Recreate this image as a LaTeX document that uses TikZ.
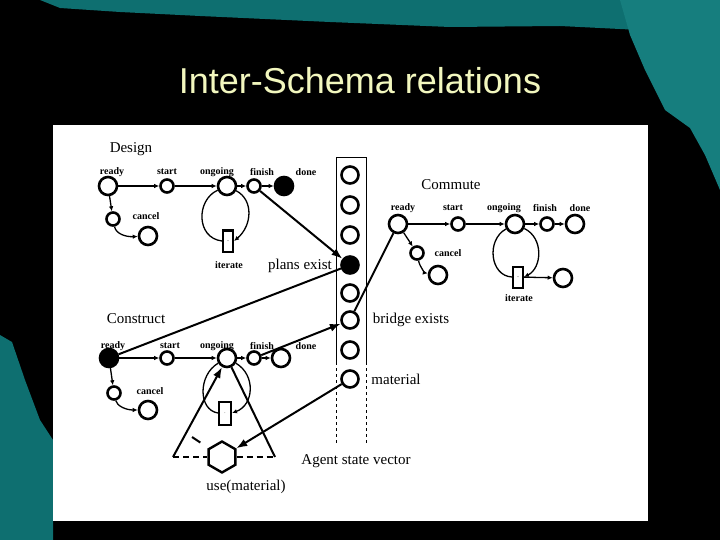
\documentclass[tikz,border=0pt]{standalone}
\usepackage{fontspec}
\setmainfont{Liberation Serif}
\newfontfamily\titlefont{Liberation Sans}
\usetikzlibrary{shapes.geometric, arrows.meta}
\definecolor{tealdark}{HTML}{0E6F70}
\definecolor{teallight}{HTML}{167E7E}
\definecolor{titleyellow}{HTML}{F2F7BE}

\begin{document}
\begin{tikzpicture}[
		x=1pt, y=-1pt, >={Latex[length=5pt, width=4.5pt]},
		every node/.style={inner sep=1pt},
		st/.style={circle, draw, line width=2.6pt, minimum size=18pt, inner sep=0pt},
		sm/.style={st, minimum size=13pt},
		full/.style={st, fill=black},
		iter/.style={rectangle, draw, line width=2pt, minimum width=10pt, minimum height=21pt, inner sep=0pt, font=\tiny},
		tag/.style={font=\bfseries\fontsize{10}{10}\selectfont},
		big/.style={font=\fontsize{15}{15}\selectfont},
		link/.style={line width=2pt, -{Latex[length=11pt, width=8pt]}},
		plain/.style={line width=2pt},
		row/.style={line width=1.3pt}
	]
  % slide background
  \useasboundingbox (0,0) rectangle (720,540);
  \fill[black] (0,0) rectangle (720,540);
  \fill[tealdark] (40,0) -- (720,0) -- (720,40) -- (640,30) -- (560,26) -- (450,27) -- (330,22) -- (200,16) -- (120,12) -- (60,8) -- cycle;
  \fill[teallight] (620,0) -- (720,0) -- (720,190) -- (705,155) -- (690,128) -- (665,110) -- (645,70) -- (630,35) -- cycle;
  \fill[tealdark] (0,335) -- (12,342) -- (25,380) -- (40,420) -- (53,440) -- (53,540) -- (0,540) -- cycle;
  \node (title) [font=\titlefont\fontsize{36}{36}\selectfont, text=titleyellow] at (360,81) {Inter-Schema relations};
  \fill[white] (53,125) rectangle (648,521);

  % agent state vector
  \draw[line width=1pt] (336,362) -- (336,158) -- (366,158) -- (366,362);
  \draw[line width=1pt, dashed] (336,362) -- (336,444);
  \draw[line width=1pt, dashed] (366,362) -- (366,444);
  \foreach \i/\y in {1/175, 2/205, 3/235, 5/293, 6/320, 7/350, 8/379}
    \node (p\i) [st, minimum size=17pt] at (350,\y) {};
  \node (p4) [full, minimum size=17pt] at (350,265) {};
  \node (plans) [big] at (300,266) {plans exist};
  \node (bridge) [big] at (411,320) {bridge exists};
  \node (material) [big] at (396,379) {material};
  \node (asv) [big] at (356,461) {Agent state vector};

  % Design
  \node (design) [big] at (131,149) {Design};
  \node (d_ready) [st] at (108,186) {};
  \node (d_start) [sm] at (167,186) {};
  \node (d_ongoing) [st] at (227,186) {};
  \node (d_finish) [sm] at (254,186) {};
  \node (d_done) [full] at (284,186) {};
  \node (d_cancel) [sm] at (113,219) {};
  \node (d_cend) [st] at (148,236) {};
  \node (d_iter) [iter] at (228,241) {..};
  \node (d_ready_t) [tag] at (112,172) {ready};
  \node (d_start_t) [tag] at (167,172) {start};
  \node (d_ongoing_t) [tag] at (217,172) {ongoing};
  \node (d_finish_t) [tag] at (262,172) {finish};
  \node (d_done_t) [tag] at (306,172) {done};
  \node (d_cancel_t) [tag] at (146,216) {cancel};
  \node (d_iter_t) [tag] at (229,265) {iterate};
  \draw[row] (d_ready) edge[->] (d_start);
  \draw[row] (d_start) edge[->] (d_ongoing);
  \draw[row] (d_ongoing) edge[->] (d_finish);
  \draw[row] (d_finish) edge[->] (d_done);
  \draw[row] (d_ready) edge[->] (d_cancel);
  \draw[row, ->] (d_cancel) .. controls (116,234) and (126,237) .. (d_cend);
  \draw[row] (d_ongoing) .. controls (196,200) and (196,238) .. (d_iter.west);
  \draw[row, ->] (d_ongoing) .. controls (254,200) and (252,226) .. (d_iter.east);

  % Commute
  \node (commute) [big] at (451,185) {Commute};
  \node (c_ready) [st] at (398,224) {};
  \node (c_start) [sm] at (458,224) {};
  \node (c_ongoing) [st] at (515,224) {};
  \node (c_finish) [sm] at (547,224) {};
  \node (c_done) [st] at (575,224) {};
  \node (c_cancel) [sm] at (417,253) {};
  \node (c_cend) [st] at (438,275) {};
  \node (c_iter) [iter] at (518,277) {..};
  \node (c_out) [st] at (563,278) {};
  \node (c_ready_t) [tag] at (403,208) {ready};
  \node (c_start_t) [tag] at (453,208) {start};
  \node (c_ongoing_t) [tag] at (504,208) {ongoing};
  \node (c_finish_t) [tag] at (545,208) {finish};
  \node (c_done_t) [tag] at (580,208) {done};
  \node (c_cancel_t) [tag] at (448,253) {cancel};
  \node (c_iter_t) [tag] at (519,298) {iterate};
  \draw[row] (c_ready) edge[->] (c_start);
  \draw[row] (c_start) edge[->] (c_ongoing);
  \draw[row] (c_ongoing) edge[->] (c_finish);
  \draw[row] (c_finish) edge[->] (c_done);
  \draw[row] (c_ready) edge[->] (c_cancel);
  \draw[row, ->] (c_cancel) .. controls (420,268) and (426,273) .. (c_cend);
  \draw[row] (c_ongoing) .. controls (486,240) and (490,276) .. (c_iter.west);
  \draw[row, ->] (c_ongoing) .. controls (544,238) and (542,268) .. (c_iter.east);
  \draw[row] (c_iter) edge[->] (c_out);

  % Construct
  \node (construct) [big] at (136,319) {Construct};
  \node (k_ready) [full] at (109,358) {};
  \node (k_start) [sm] at (167,358) {};
  \node (k_ongoing) [st] at (227,358) {};
  \node (k_finish) [sm] at (254,358) {};
  \node (k_done) [st] at (281,358) {};
  \node (k_cancel) [sm] at (114,393) {};
  \node (k_cend) [st] at (148,410) {};
  \node (k_iter) [iter, minimum width=12pt, minimum height=23pt] at (225,413) {.};
  \node (k_use) [regular polygon, regular polygon sides=6, shape border rotate=30, draw, line width=2.4pt, minimum size=31pt, inner sep=0pt, fill=white] at (222,457) {};
  \coordinate (k_tl) at (173,457);
  \coordinate (k_tr) at (275,457);
  \coordinate (k_dash) at (192,437);
  \node (k_ready_t) [tag] at (113,346) {ready};
  \node (k_start_t) [tag] at (170,346) {start};
  \node (k_ongoing_t) [tag] at (217,346) {ongoing};
  \node (k_finish_t) [tag] at (262,346) {finish};
  \node (k_done_t) [tag] at (306,346) {done};
  \node (k_cancel_t) [tag] at (150,391) {cancel};
  \node (k_use_t) [big] at (246,487) {use(material)};
  \draw[row] (k_ready) edge[->] (k_start);
  \draw[row] (k_start) edge[->] (k_ongoing);
  \draw[row] (k_ongoing) edge[->] (k_finish);
  \draw[row] (k_finish) edge[->] (k_done);
  \draw[row] (k_ready) edge[->] (k_cancel);
  \draw[row, ->] (k_cancel) .. controls (117,406) and (126,410) .. (k_cend);
  \draw[row] (k_ongoing) .. controls (198,375) and (198,410) .. (k_iter.west);
  \draw[row, ->] (k_ongoing) .. controls (256,375) and (254,405) .. (k_iter.east);
  \draw[link] (k_tl) -- (k_ongoing);
  \draw[plain] (k_tr) -- (k_ongoing);
  \draw[plain, dash pattern=on 6pt off 4pt] (k_tl) -- (k_use);
  \draw[plain, dash pattern=on 6pt off 4pt] (k_use) -- (k_tr);
  \draw[plain, dash pattern=on 10pt off 20pt] (k_dash) -- (k_use);

  % inter-schema relations
  \draw[link] (d_finish) -- (p4);
  \draw[plain] (k_ready) -- (p4);
  \draw[link] (k_finish) -- (p6);
  \draw[plain] (c_ready) -- (p6);
  \draw[link] (p8) -- (k_use);
\end{tikzpicture}
\end{document}
